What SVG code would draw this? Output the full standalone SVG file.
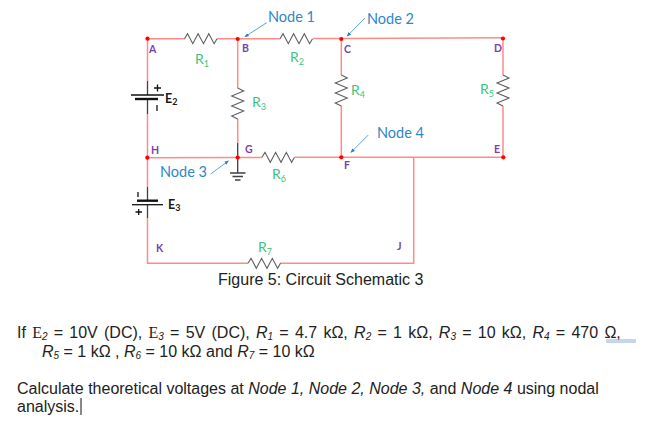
<svg xmlns="http://www.w3.org/2000/svg" width="654" height="435" viewBox="0 0 654 435">
<style>
text{font-family:"Lato","Open Sans",sans-serif}
.w{fill:none;stroke:#ff8a8a;stroke-width:1.5}
.z{fill:none;stroke:#5f5f5f;stroke-width:1.1;stroke-linejoin:miter}
.d{fill:none;stroke:#404040;stroke-width:1.3}
.p{fill:none;stroke:#111;stroke-width:1.3}
.a{fill:none;stroke:#4a9ad4;stroke-width:.9;marker-end:url(#ah)}
.n{font-size:14.5px;fill:#2e86c8}
.l{font-size:10.5px;font-weight:700;fill:#7a3fb5}
.r{font-size:14px;fill:#3cc47c}
.e{font-size:12.5px;font-weight:700;fill:#1a1a1a}
.s{font-size:9px}
text.t{font-family:"Liberation Sans",Arial,sans-serif;font-size:16px;fill:#222}
.tm{font-family:"Liberation Serif","Times New Roman",serif}
.i{font-style:italic}
</style>
<defs>
<marker id="ah" viewBox="0 0 6 6" refX="5" refY="3" markerWidth="5" markerHeight="5" orient="auto"><path d="M0 .6L6 3L0 5.4z" fill="#2a7fc0"/></marker>
<circle id="dot" r="2.1" fill="#f00"/>
<path id="zh" class="z" d="M0 0L3 -5L8.3 5L13.6 -5L19 5L24.3 -5L29.6 5L32.5 0"/>
<path id="zv" class="z" d="M0 0L6 3L-6 8L6 13L-6 18L6 23L-6 28L0 31"/>
</defs>

<g id="connectors">
<path class="w" d="M147.5 38.7H185M217 38.7H280M313 38.5H341.3L503 37.8"/>
<path class="w" d="M147.5 38.7V81M147.5 114V187M147.5 218V263.3H248M280 263.3H413.7V157.3"/>
<path class="w" d="M237.7 39V88M237.7 119V143"/>
<path class="w" d="M341.3 39V75M341.3 106V157.3"/>
<path class="w" d="M503 38V75M503 106V157.3"/>
<path class="w" d="M147.5 157.7L237.7 157.4H262M295 157.3H503"/>
<path class="a" d="M266.7 22.7L245 36.7"/>
<path class="a" d="M365 18L347.3 36"/>
<path class="a" d="M210.7 174L228.3 161"/>
<path class="a" d="M368.3 135L351 152.3"/>
</g>

<g id="R1"><use href="#zh" x="184.5" y="38.7"/><text class="r" x="195" y="64">R<tspan class="s" dy="3">1</tspan></text></g>
<g id="R2"><use href="#zh" x="280" y="38.7"/><text class="r" x="290" y="62">R<tspan class="s" dy="3">2</tspan></text></g>
<g id="R3"><use href="#zv" x="237.7" y="88"/><text class="r" x="252" y="107">R<tspan class="s" dy="3">3</tspan></text></g>
<g id="R4"><use href="#zv" x="341.3" y="75"/><text class="r" x="351" y="95">R<tspan class="s" dy="3">4</tspan></text></g>
<g id="R5"><use href="#zv" x="503" y="75"/><text class="r" x="480" y="94">R<tspan class="s" dy="3">5</tspan></text></g>
<g id="R6"><use href="#zh" x="262" y="157.3"/><text class="r" x="272" y="179">R<tspan class="s" dy="3">6</tspan></text></g>
<g id="R7"><use href="#zh" x="248" y="263.3"/><text class="r" x="258" y="252">R<tspan class="s" dy="3">7</tspan></text></g>

<g id="E2">
<path class="d" d="M147.5 81V95M147.5 99V114"/>
<path class="p" d="M131 95H164"/>
<path class="p" style="stroke-width:2.4" d="M135 99H158"/>
<path class="p" d="M154 88H161M157.5 84.5V91.5M157 105V111"/>
<text class="e" x="165" y="103">E<tspan class="s" dy="2">2</tspan></text>
</g>
<g id="E3">
<path class="d" d="M147.5 187V200.7M147.5 204.7V218"/>
<path class="p" style="stroke-width:2.4" d="M137 200.7H158"/>
<path class="p" d="M132 204.7H163"/>
<path class="p" d="M138 192V197M135.5 212H142M138.7 209V215"/>
<text class="e" x="168" y="209">E<tspan class="s" dy="2">3</tspan></text>
</g>
<g id="GND">
<path class="d" d="M237.7 143V173M230 173H245.5M232.5 176.5H243M235 180H240.5"/>
</g>

<g id="A"><use href="#dot" x="147.5" y="38.7"/><text class="l" x="149" y="53">A</text></g>
<g id="B"><use href="#dot" x="237.7" y="39"/><text class="l" x="242" y="52">B</text></g>
<g id="C"><use href="#dot" x="341.3" y="39"/><text class="l" x="344" y="53">C</text></g>
<g id="D"><use href="#dot" x="503" y="38.5"/><text class="l" x="494" y="52">D</text></g>
<g id="E"><use href="#dot" x="503.3" y="157.3"/><text class="l" x="494" y="153">E</text></g>
<g id="F"><use href="#dot" x="341.3" y="157.3"/><text class="l" x="344" y="169">F</text></g>
<g id="G"><use href="#dot" x="237.7" y="157.5"/><text class="l" x="245" y="153">G</text></g>
<g id="H"><use href="#dot" x="147.3" y="157.7"/><text class="l" x="151" y="154">H</text></g>
<g id="K"><text class="l" x="156" y="252">K</text></g>
<g id="J"><text class="l" x="397" y="250">J</text></g>

<g id="node-labels">
<text class="n" x="268" y="22">Node 1</text>
<text class="n" x="367" y="24">Node 2</text>
<text class="n" x="160" y="177">Node 3</text>
<text class="n" x="377" y="138">Node 4</text>
</g>

<text class="t" x="218" y="285">Figure 5: Circuit Schematic 3</text>

<g id="problem">
<text class="t" x="17" y="338" word-spacing="1.8">If <tspan class="tm">E</tspan><tspan class="i" font-size="10" dy="2">2</tspan><tspan dy="-2"> = 10V (DC), </tspan><tspan class="tm">E</tspan><tspan class="i" font-size="10" dy="2">3</tspan><tspan dy="-2"> = 5V (DC), </tspan><tspan class="i">R</tspan><tspan class="i" font-size="10" dy="2">1</tspan><tspan dy="-2"> = 4.7 kΩ, </tspan><tspan class="i">R</tspan><tspan class="i" font-size="10" dy="2">2</tspan><tspan dy="-2"> = 1 kΩ, </tspan><tspan class="i">R</tspan><tspan class="i" font-size="10" dy="2">3</tspan><tspan dy="-2"> = 10 kΩ, </tspan><tspan class="i">R</tspan><tspan class="i" font-size="10" dy="2">4</tspan><tspan dy="-2"> = 470 Ω,</tspan></text>
<text class="t" x="42" y="357"><tspan class="i">R</tspan><tspan class="i" font-size="10" dy="2">5</tspan><tspan dy="-2"> = 1 kΩ , </tspan><tspan class="i">R</tspan><tspan class="i" font-size="10" dy="2">6</tspan><tspan dy="-2"> = 10 kΩ and </tspan><tspan class="i">R</tspan><tspan class="i" font-size="10" dy="2">7</tspan><tspan dy="-2"> = 10 kΩ</tspan></text>
<text class="t" x="17" y="394">Calculate theoretical voltages at <tspan class="i">Node 1, Node 2, Node 3,</tspan> and <tspan class="i">Node 4</tspan> using nodal</text>
<text class="t" x="17" y="412">analysis.</text>
<path d="M81 398V415" stroke="#111" stroke-width="1"/>
<path d="M606 340H636M606 342H636" stroke="#6f95d8" stroke-width=".8" fill="none"/>
</g>
</svg>
